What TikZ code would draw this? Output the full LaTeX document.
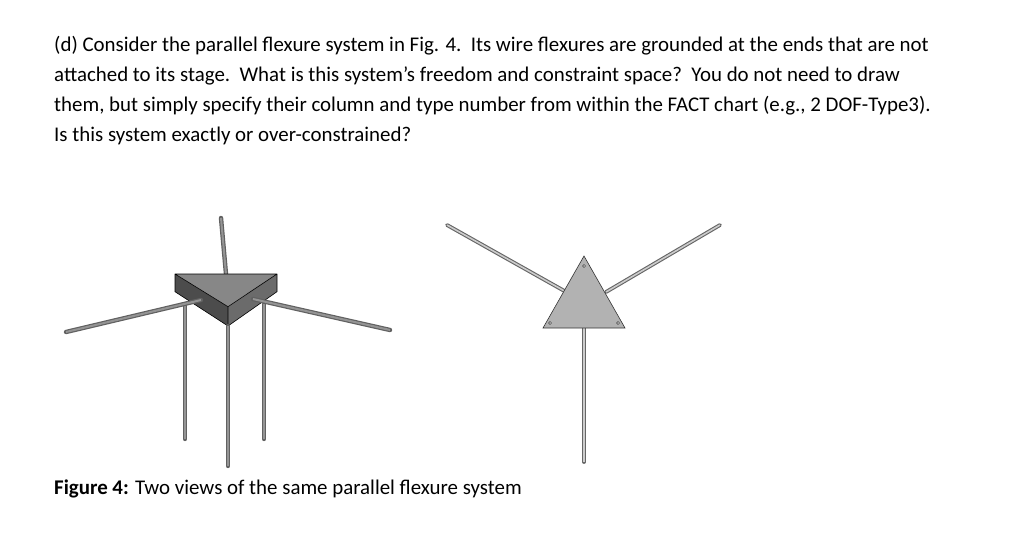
\documentclass[tikz,border=0pt]{standalone}
\usepackage{fontspec}
\setmainfont{Carlito}
\begin{document}
\begin{tikzpicture}[x=1pt,y=-1pt,
  rodo/.style={line width=4.4pt,color=black!62},
  rodi/.style={line width=2pt,color=black!42},
  txt/.style={anchor=west,inner sep=0pt,font=\fontsize{20.9}{24}\selectfont}]
\useasboundingbox (0,0) rectangle (1024,543);
% text
\node[txt] (l1) at (54,46) {(d) Consider the parallel flexure system in Fig. 4.\ \ Its wire flexures are grounded at the ends that are not};
\node[txt] (l2) at (54,76) {attached to its stage.\ \ What is this system’s freedom and constraint space?\ \ You do not need to draw};
\node[txt] (l3) at (54,106) {them, but simply specify their column and type number from within the FACT chart (e.g., 2 DOF-Type3).};
\node[txt] (l4) at (54,136) {Is this system exactly or over-constrained?};
\node[txt] (cap) at (54,489) {\textbf{Figure 4:} Two views of the same parallel flexure system};
% left view coordinates
\coordinate (A) at (175,274); \coordinate (B) at (277,274);
\coordinate (C) at (228,306.7); \coordinate (D) at (228,326);
\coordinate (E) at (175,291.7); \coordinate (F) at (277,291.7);
% rods behind
\foreach \p/\q in {{(221,218)}/{(226,274)},{(185,304)}/{(185,439)},{(264,304)}/{(264,439)}}{
  \draw[rodo,line cap=round] \p -- \q; \draw[rodi] \p -- \q;}
% prism
\fill[black!70] (A) -- (C) -- (D) -- (E) -- cycle;
\fill[black!58] (B) -- (C) -- (D) -- (F) -- cycle;
\fill[black!47] (A) -- (B) -- (C) -- cycle;
\draw[black,line width=0.6pt,line join=round] (A) -- (B) -- (F) -- (D) -- (E) -- cycle (A) -- (C) -- (B) (C) -- (D);
% rods front
\foreach \p/\q in {{(201,300)}/{(66,332)},{(253,299)}/{(390,330)},{(228,326)}/{(228,466)}}{
  \draw[rodo,line cap=round] \p -- \q; \draw[rodi] \p -- \q;}
% right view
\foreach \p/\q in {{(447,225)}/{(568,293)},{(720,225)}/{(606,292)},{(584,328)}/{(584,462)}}{
  \draw[line width=3.8pt,color=black!60,line cap=round] \p -- \q; \draw[line width=1.6pt,color=black!20] \p -- \q;}
\coordinate (P) at (584,256); \coordinate (Q) at (543,328); \coordinate (R) at (625,328);
\filldraw[fill=black!30,draw=black!80,line width=0.6pt] (P) -- (Q) -- (R) -- cycle;
\foreach \h in {(584,266),(550,323),(618,323)} \draw[black!70,line width=0.5pt] \h circle (1.6);
\end{tikzpicture}
\end{document}
